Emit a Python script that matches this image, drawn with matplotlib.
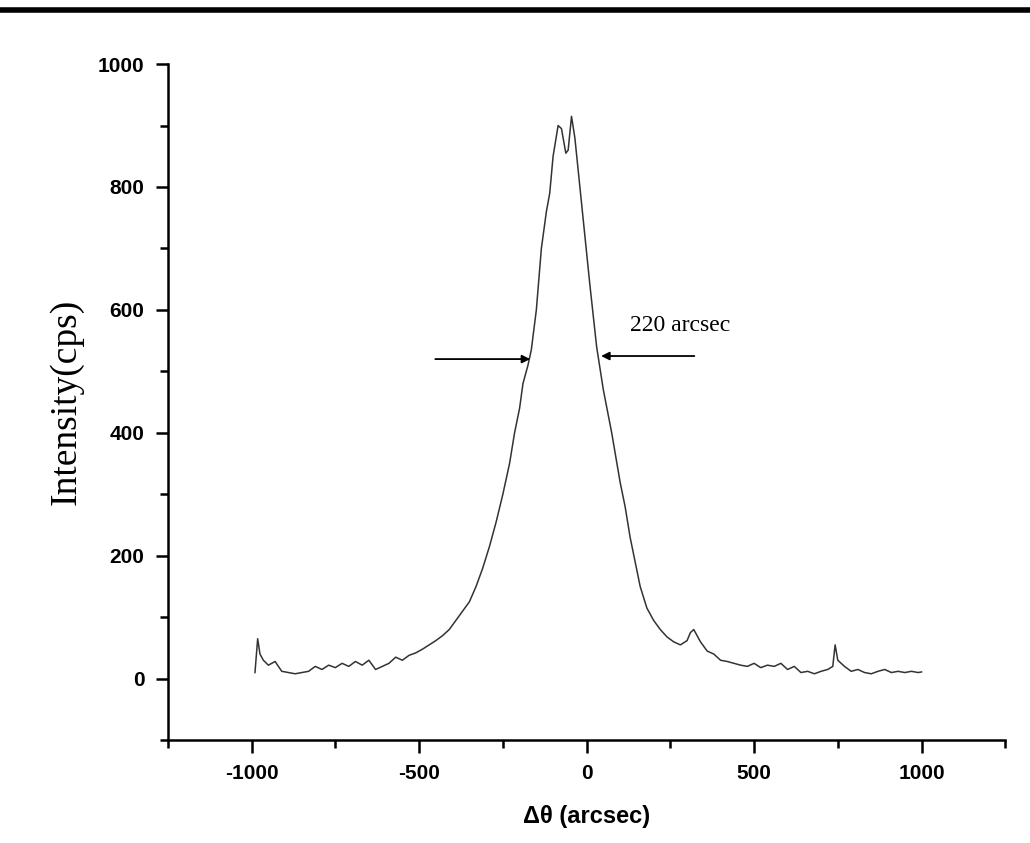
import numpy as np
import matplotlib; matplotlib.use('Agg')
import matplotlib.pyplot as plt
from matplotlib.ticker import MultipleLocator

plt.rcParams['axes.unicode_minus'] = False
plt.rcParams['font.family'] = ['Liberation Sans', 'DejaVu Sans']

# rocking curve
theta = [-990, -982, -975, -965, -950, -930, -910, -890, -870, -850, -830, -810, -790, -770,
         -750, -730, -710, -690, -670, -650, -630, -610, -590, -570, -550, -530, -510, -490,
         -470, -450, -430, -410, -390, -370, -350, -330, -310, -290, -270, -250, -230, -215,
         -200, -190, -175, -165, -150, -135, -120, -110, -100, -85, -75, -62, -55, -45, -35,
         -20, -5, 10, 30, 50, 75, 100, 115, 130, 145, 160, 180, 200, 220, 240,
         260, 280, 300, 310, 320, 340, 360, 380, 400, 420, 440, 460, 480, 500, 520, 540,
         560, 580, 600, 620, 640, 660, 680, 700, 720, 735, 742, 750, 770, 790, 810, 830,
         850, 870, 890, 910, 930, 950, 970, 990, 1000]
intensity = [10, 65, 40, 30, 22, 28, 12, 10, 8, 10, 12, 20, 15, 22, 18, 25, 20, 28, 22, 30,
             15, 20, 25, 35, 30, 38, 42, 48, 55, 62, 70, 80, 95, 110, 125, 150, 180, 215,
             255, 300, 350, 400, 440, 480, 510, 535, 600, 700, 760, 790, 850, 900, 895,
             855, 860, 915, 880, 800, 720, 640, 540, 470, 400, 320, 280, 230, 190, 150,
             115, 95, 80, 68, 60, 55, 62, 75, 80, 60, 45, 40, 30, 28, 25, 22,
             20, 25, 18, 22, 20, 25, 15, 20, 10, 12, 8, 12, 15, 20, 55, 30, 20, 12,
             15, 10, 8, 12, 15, 10, 12, 10, 12, 10, 11]

fig = plt.figure(figsize=(10.30, 8.43), dpi=100)
# thick rule across the top of the page
fig.add_artist(plt.Line2D([0.0, 1.0], [0.988, 0.988], color='black', lw=4, transform=fig.transFigure))

ax = fig.add_axes([0.163, 0.122, 0.813, 0.802])
ax.plot(theta, intensity, color='#333333', lw=1.1)

ax.set_xlim(-1250, 1250)
ax.set_ylim(-100, 1000)
ax.spines['top'].set_visible(False)
ax.spines['right'].set_visible(False)
ax.spines['left'].set_linewidth(1.8)
ax.spines['bottom'].set_linewidth(1.8)
ax.xaxis.set_major_locator(MultipleLocator(500))
ax.xaxis.set_minor_locator(MultipleLocator(250))
ax.yaxis.set_minor_locator(MultipleLocator(100))
ax.set_yticks([0, 200, 400, 600, 800, 1000])
ax.tick_params(which='major', direction='out', length=9, width=1.8, labelsize=15, pad=8)
ax.tick_params(which='minor', direction='out', length=6, width=1.8)
for lab in ax.get_xticklabels() + ax.get_yticklabels():
    lab.set_fontweight('bold')

ax.set_xlabel('Δθ (arcsec)', fontsize=17, labelpad=16, fontweight='bold')
ax.set_ylabel('Intensity(cps)', fontsize=27, family='Liberation Serif', labelpad=10)

# FWHM arrows
ax.annotate('', xy=(-160, 520), xytext=(-460, 520),
            arrowprops=dict(arrowstyle='-|>', color='black', lw=1.3, mutation_scale=12))
ax.annotate('', xy=(35, 525), xytext=(330, 525),
            arrowprops=dict(arrowstyle='-|>', color='black', lw=1.3, mutation_scale=12))
ax.text(130, 565, '220 arcsec', fontsize=17, family='Liberation Serif')

fig.savefig('out.png')
